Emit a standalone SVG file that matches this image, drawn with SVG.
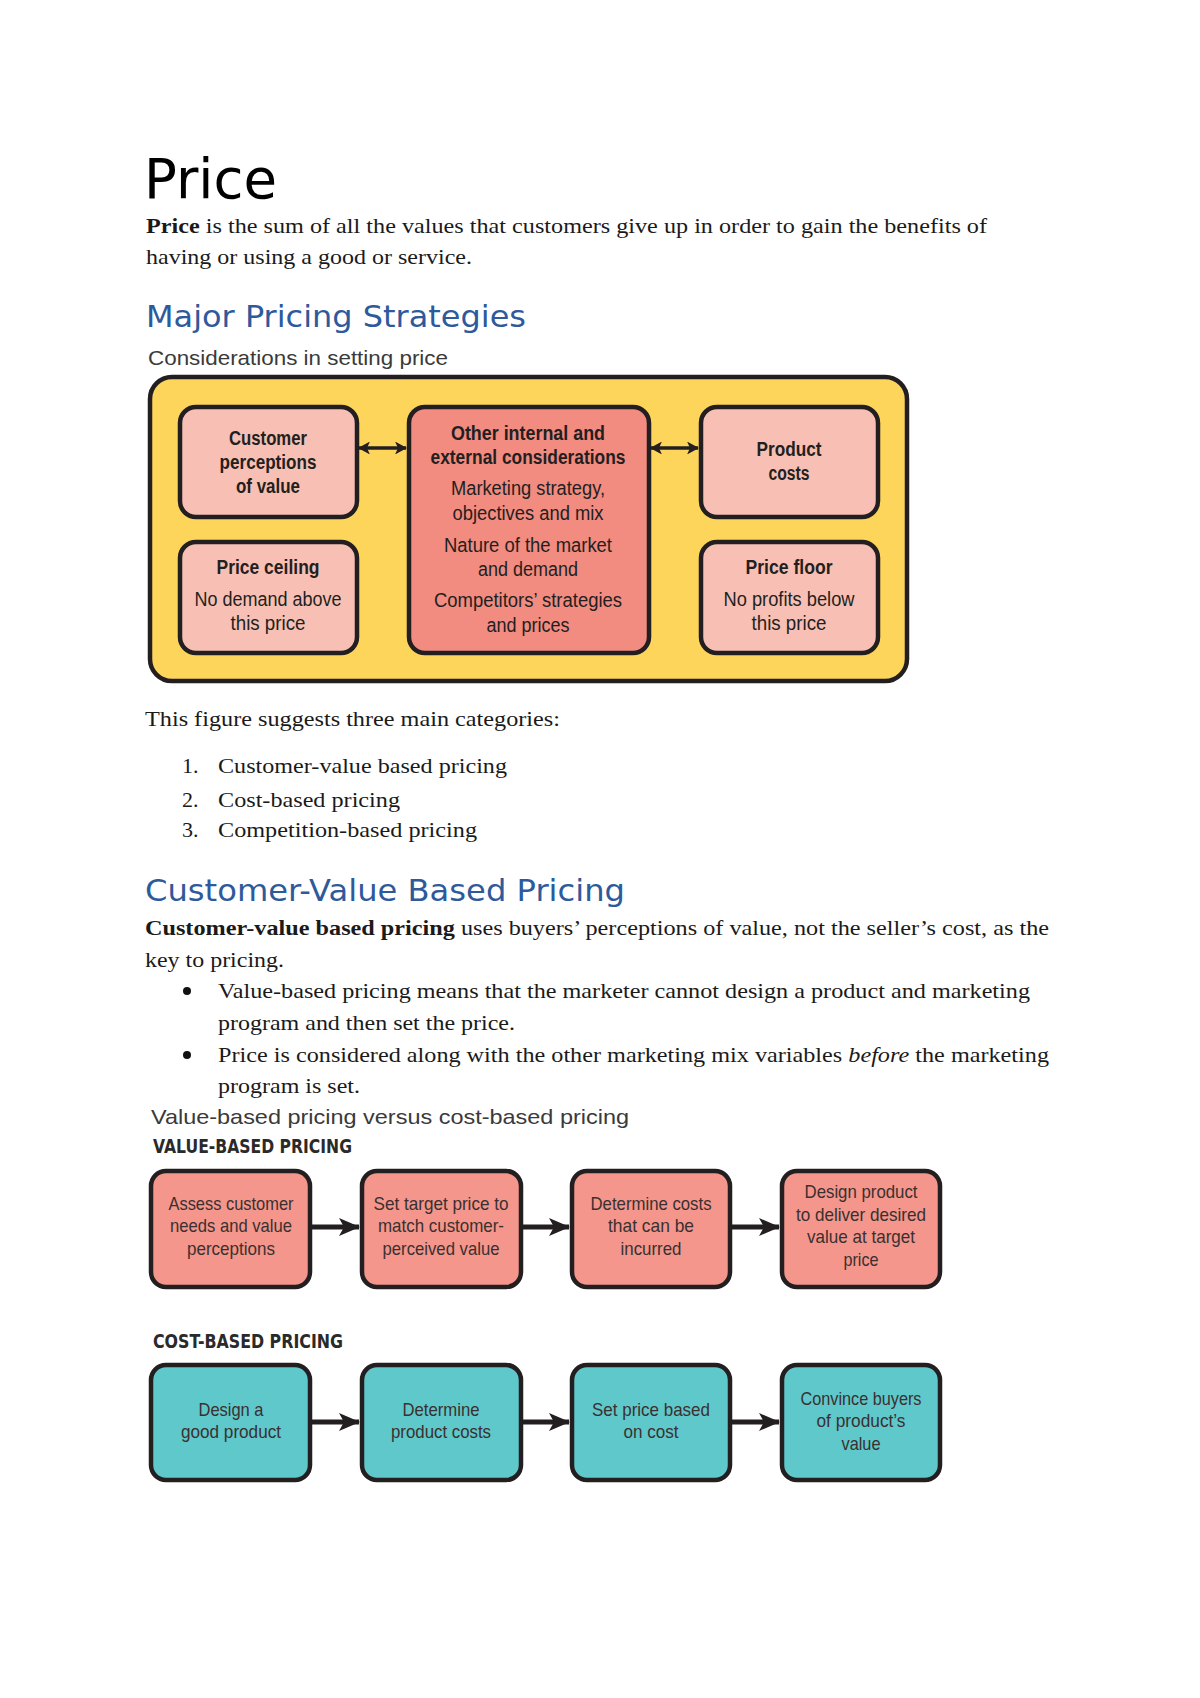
<svg xmlns="http://www.w3.org/2000/svg" width="1200" height="1698" viewBox="0 0 1200 1698">
<defs>
<style>
.body{font-family:"Liberation Serif","Times New Roman",serif;font-size:22px;fill:#1a1a1a}
.h1{font-family:"DejaVu Sans",sans-serif;font-size:56px;fill:#000}
.h2{font-family:"DejaVu Sans",sans-serif;font-size:30px;fill:#2E5A9C}
.cap{font-family:"Liberation Sans",Arial,sans-serif;font-size:21px;fill:#3a3a3a}
.lab{font-family:"DejaVu Sans","Liberation Sans",sans-serif;font-weight:bold;font-size:19px;fill:#2a2a2a}
.bx{stroke:#231F20;stroke-width:4.5}
.fy{fill:#FDD55B}
.fp{fill:#F8C0B4}
.fm{fill:#F28B80}
.fv{fill:#F4968C}
.fc{fill:#5FC8CB}
.t{font-family:"Liberation Sans",Arial,sans-serif;font-size:20px;fill:#231F20;text-anchor:middle}
.tb{font-weight:bold}
.ts{font-size:18.5px;fill:#3a3030}
.conn{stroke:#231F20;fill:none}
</style>
<marker id="ah" viewBox="0 0 12 13" refX="11" refY="6.5" markerWidth="3.5" markerHeight="3.7" orient="auto-start-reverse" markerUnits="strokeWidth"><path d="M0,0 L12,6.5 L0,13 L3,6.5 z" fill="#231F20"/></marker>
<marker id="ah2" viewBox="0 0 21 18" refX="20" refY="9" markerWidth="4.2" markerHeight="3.6" orient="auto" markerUnits="strokeWidth"><path d="M0,0 L21,9 L0,18 L5,9 z" fill="#231F20"/></marker>
</defs>
<rect width="1200" height="1698" fill="#fff"/>

<g id="header">
<text class="h1" x="144" y="198" textLength="133" lengthAdjust="spacingAndGlyphs">Price</text>
<text class="body" x="146" y="233" textLength="841" lengthAdjust="spacingAndGlyphs"><tspan font-weight="bold">Price</tspan> is the sum of all the values that customers give up in order to gain the benefits of</text>
<text class="body" x="146" y="264" textLength="326" lengthAdjust="spacingAndGlyphs">having or using a good or service.</text>
<text class="h2" x="146" y="327" textLength="380" lengthAdjust="spacingAndGlyphs">Major Pricing Strategies</text>
<text class="cap" x="148" y="365" textLength="300" lengthAdjust="spacingAndGlyphs">Considerations in setting price</text>
</g>

<g id="fig1-frame"><rect class="bx fy" x="150" y="377" width="757" height="304" rx="22"/></g>
<g id="customer-perceptions"><rect class="bx fp" x="180" y="407" width="177" height="110" rx="16"/>
<text class="t tb" x="268" y="445" textLength="78" lengthAdjust="spacingAndGlyphs">Customer</text>
<text class="t tb" x="268" y="469" textLength="97" lengthAdjust="spacingAndGlyphs">perceptions</text>
<text class="t tb" x="268" y="493" textLength="64" lengthAdjust="spacingAndGlyphs">of value</text></g>
<g id="price-ceiling"><rect class="bx fp" x="180" y="542" width="177" height="111" rx="16"/>
<text class="t tb" x="268" y="574" textLength="103" lengthAdjust="spacingAndGlyphs">Price ceiling</text>
<text class="t" x="268" y="606" textLength="147" lengthAdjust="spacingAndGlyphs">No demand above</text>
<text class="t" x="268" y="630" textLength="75" lengthAdjust="spacingAndGlyphs">this price</text></g>
<g id="other-considerations"><rect class="bx fm" x="409" y="407" width="240" height="246" rx="16"/>
<text class="t tb" x="528" y="440" textLength="154" lengthAdjust="spacingAndGlyphs">Other internal and</text>
<text class="t tb" x="528" y="464" textLength="195" lengthAdjust="spacingAndGlyphs">external considerations</text>
<text class="t" x="528" y="495" textLength="154" lengthAdjust="spacingAndGlyphs">Marketing strategy,</text>
<text class="t" x="528" y="520" textLength="151" lengthAdjust="spacingAndGlyphs">objectives and mix</text>
<text class="t" x="528" y="552" textLength="168" lengthAdjust="spacingAndGlyphs">Nature of the market</text>
<text class="t" x="528" y="576" textLength="100" lengthAdjust="spacingAndGlyphs">and demand</text>
<text class="t" x="528" y="607" textLength="188" lengthAdjust="spacingAndGlyphs">Competitors’ strategies</text>
<text class="t" x="528" y="632" textLength="83" lengthAdjust="spacingAndGlyphs">and prices</text></g>
<g id="product-costs"><rect class="bx fp" x="701" y="407" width="177" height="110" rx="16"/>
<text class="t tb" x="789" y="456" textLength="65" lengthAdjust="spacingAndGlyphs">Product</text>
<text class="t tb" x="789" y="480" textLength="41" lengthAdjust="spacingAndGlyphs">costs</text></g>
<g id="price-floor"><rect class="bx fp" x="701" y="542" width="177" height="111" rx="16"/>
<text class="t tb" x="789" y="574" textLength="87" lengthAdjust="spacingAndGlyphs">Price floor</text>
<text class="t" x="789" y="606" textLength="131" lengthAdjust="spacingAndGlyphs">No profits below</text>
<text class="t" x="789" y="630" textLength="75" lengthAdjust="spacingAndGlyphs">this price</text></g>

<g id="categories">
<text class="body" x="145" y="726" textLength="415" lengthAdjust="spacingAndGlyphs">This figure suggests three main categories:</text>
<text class="body" x="182" y="773">1.</text><text class="body" x="218" y="773" textLength="289" lengthAdjust="spacingAndGlyphs">Customer-value based pricing</text>
<text class="body" x="182" y="807">2.</text><text class="body" x="218" y="807" textLength="182" lengthAdjust="spacingAndGlyphs">Cost-based pricing</text>
<text class="body" x="182" y="837">3.</text><text class="body" x="218" y="837" textLength="259" lengthAdjust="spacingAndGlyphs">Competition-based pricing</text>
</g>

<g id="cvbp-section">
<text class="h2" x="145" y="901" textLength="480" lengthAdjust="spacingAndGlyphs">Customer-Value Based Pricing</text>
<text class="body" x="145" y="935" textLength="904" lengthAdjust="spacingAndGlyphs"><tspan font-weight="bold">Customer-value based pricing</tspan> uses buyers’ perceptions of value, not the seller’s cost, as the</text>
<text class="body" x="145" y="967" textLength="139" lengthAdjust="spacingAndGlyphs">key to pricing.</text>
<circle cx="187" cy="991" r="4" fill="#111"/>
<text class="body" x="218" y="998" textLength="812" lengthAdjust="spacingAndGlyphs">Value-based pricing means that the marketer cannot design a product and marketing</text>
<text class="body" x="218" y="1030" textLength="297" lengthAdjust="spacingAndGlyphs">program and then set the price.</text>
<circle cx="187" cy="1055" r="4" fill="#111"/>
<text class="body" x="218" y="1062" textLength="831" lengthAdjust="spacingAndGlyphs">Price is considered along with the other marketing mix variables <tspan font-style="italic">before</tspan> the marketing</text>
<text class="body" x="218" y="1093" textLength="142" lengthAdjust="spacingAndGlyphs">program is set.</text>
<text class="cap" x="151" y="1124" font-size="22" textLength="478" lengthAdjust="spacingAndGlyphs">Value-based pricing versus cost-based pricing</text>
<text class="lab" x="153" y="1153" textLength="199" lengthAdjust="spacingAndGlyphs">VALUE-BASED PRICING</text>
<text class="lab" x="153" y="1348" textLength="190" lengthAdjust="spacingAndGlyphs">COST-BASED PRICING</text>
</g>

<g id="v1"><rect class="bx fv" x="151" y="1171" width="159" height="116" rx="15"/>
<text class="t ts" x="231" y="1210" textLength="125" lengthAdjust="spacingAndGlyphs">Assess customer</text>
<text class="t ts" x="231" y="1232" textLength="122" lengthAdjust="spacingAndGlyphs">needs and value</text>
<text class="t ts" x="231" y="1255" textLength="88" lengthAdjust="spacingAndGlyphs">perceptions</text></g>
<g id="v2"><rect class="bx fv" x="362" y="1171" width="159" height="116" rx="15"/>
<text class="t ts" x="441" y="1210" textLength="135" lengthAdjust="spacingAndGlyphs">Set target price to</text>
<text class="t ts" x="441" y="1232" textLength="126" lengthAdjust="spacingAndGlyphs">match customer-</text>
<text class="t ts" x="441" y="1255" textLength="117" lengthAdjust="spacingAndGlyphs">perceived value</text></g>
<g id="v3"><rect class="bx fv" x="572" y="1171" width="158" height="116" rx="15"/>
<text class="t ts" x="651" y="1210" textLength="121" lengthAdjust="spacingAndGlyphs">Determine costs</text>
<text class="t ts" x="651" y="1232" textLength="86" lengthAdjust="spacingAndGlyphs">that can be</text>
<text class="t ts" x="651" y="1255" textLength="61" lengthAdjust="spacingAndGlyphs">incurred</text></g>
<g id="v4"><rect class="bx fv" x="782" y="1171" width="158" height="116" rx="15"/>
<text class="t ts" x="861" y="1198" textLength="113" lengthAdjust="spacingAndGlyphs">Design product</text>
<text class="t ts" x="861" y="1221" textLength="130" lengthAdjust="spacingAndGlyphs">to deliver desired</text>
<text class="t ts" x="861" y="1243" textLength="108" lengthAdjust="spacingAndGlyphs">value at target</text>
<text class="t ts" x="861" y="1266" textLength="35" lengthAdjust="spacingAndGlyphs">price</text></g>

<g id="c1"><rect class="bx fc" x="151" y="1365" width="159" height="115" rx="15"/>
<text class="t ts" x="231" y="1416" textLength="65" lengthAdjust="spacingAndGlyphs">Design a</text>
<text class="t ts" x="231" y="1438" textLength="100" lengthAdjust="spacingAndGlyphs">good product</text></g>
<g id="c2"><rect class="bx fc" x="362" y="1365" width="159" height="115" rx="15"/>
<text class="t ts" x="441" y="1416" textLength="77" lengthAdjust="spacingAndGlyphs">Determine</text>
<text class="t ts" x="441" y="1438" textLength="100" lengthAdjust="spacingAndGlyphs">product costs</text></g>
<g id="c3"><rect class="bx fc" x="572" y="1365" width="158" height="115" rx="15"/>
<text class="t ts" x="651" y="1416" textLength="118" lengthAdjust="spacingAndGlyphs">Set price based</text>
<text class="t ts" x="651" y="1438" textLength="55" lengthAdjust="spacingAndGlyphs">on cost</text></g>
<g id="c4"><rect class="bx fc" x="782" y="1365" width="158" height="115" rx="15"/>
<text class="t ts" x="861" y="1405" textLength="121" lengthAdjust="spacingAndGlyphs">Convince buyers</text>
<text class="t ts" x="861" y="1427" textLength="89" lengthAdjust="spacingAndGlyphs">of product’s</text>
<text class="t ts" x="861" y="1450" textLength="39" lengthAdjust="spacingAndGlyphs">value</text></g>

<g id="connectors">
<line class="conn" x1="359" y1="448" x2="406" y2="448" stroke-width="3.5" marker-start="url(#ah)" marker-end="url(#ah)"/>
<line class="conn" x1="651" y1="448" x2="698" y2="448" stroke-width="3.5" marker-start="url(#ah)" marker-end="url(#ah)"/>
<line class="conn" x1="312" y1="1227" x2="359" y2="1227" stroke-width="5" marker-end="url(#ah2)"/>
<line class="conn" x1="523" y1="1227" x2="569" y2="1227" stroke-width="5" marker-end="url(#ah2)"/>
<line class="conn" x1="732" y1="1227" x2="779" y2="1227" stroke-width="5" marker-end="url(#ah2)"/>
<line class="conn" x1="312" y1="1422" x2="359" y2="1422" stroke-width="5" marker-end="url(#ah2)"/>
<line class="conn" x1="523" y1="1422" x2="569" y2="1422" stroke-width="5" marker-end="url(#ah2)"/>
<line class="conn" x1="732" y1="1422" x2="779" y2="1422" stroke-width="5" marker-end="url(#ah2)"/>
</g>
</svg>
